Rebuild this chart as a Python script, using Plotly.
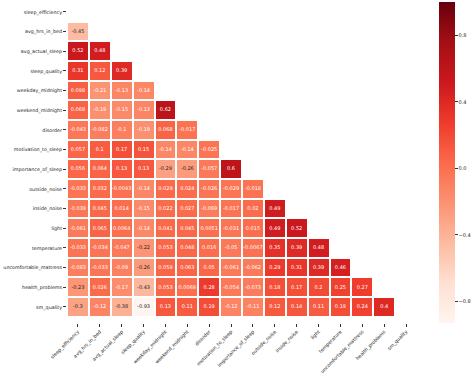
import plotly.graph_objects as go

labels = ["sleep_efficiency", "avg_hrs_in_bed", "avg_actual_sleep", "sleep_quality",
          "weekday_midnight", "weekend_midnight", "disorder", "motivation_to_sleep",
          "importance_of_sleep", "outside_noise", "inside_noise", "light", "temperature",
          "uncomfortable_mattress", "health_problems", "sm_quality"]

# lower triangle rows (values for columns j < i)
lower = [
    [],
    [-0.45],
    [0.52, 0.48],
    [0.31, 0.12, 0.39],
    [0.098, -0.21, -0.13, -0.14],
    [0.068, -0.19, -0.15, -0.13, 0.62],
    [-0.043, -0.082, -0.1, -0.19, 0.068, -0.017],
    [0.057, 0.1, 0.17, 0.15, -0.14, -0.14, -0.025],
    [0.056, 0.064, 0.13, 0.13, -0.29, -0.26, -0.057, 0.6],
    [-0.033, 0.032, -0.0043, -0.14, 0.029, 0.024, -0.026, -0.029, -0.018],
    [-0.039, 0.045, 0.014, -0.15, 0.022, 0.027, -0.069, -0.017, 0.02, 0.49],
    [-0.061, 0.065, 0.0064, -0.14, 0.041, 0.045, 0.0051, -0.031, 0.015, 0.49, 0.52],
    [-0.033, -0.034, -0.047, -0.22, 0.053, 0.048, 0.016, -0.05, -0.0067, 0.35, 0.39, 0.48],
    [-0.083, -0.033, -0.09, -0.26, 0.059, 0.063, 0.05, -0.061, -0.062, 0.29, 0.31, 0.39, 0.46],
    [-0.23, 0.026, -0.17, -0.43, 0.053, 0.0069, 0.28, -0.054, -0.073, 0.18, 0.17, 0.2, 0.25, 0.27],
    [-0.3, -0.12, -0.38, -0.93, 0.13, 0.11, 0.19, -0.12, -0.11, 0.12, 0.14, 0.11, 0.19, 0.24, 0.4],
]

zmin, zmax = -0.93, 1.0
cbar_ticks = [-0.8, -0.4, 0.0, 0.4, 0.8]
cbar_text = ["\u22120.8", "\u22120.4", "0.0", "0.4", "0.8"]

reds = ['rgb(255,245,240)', 'rgb(254,224,210)', 'rgb(252,187,161)', 'rgb(252,146,114)',
        'rgb(251,106,74)', 'rgb(239,59,44)', 'rgb(203,24,29)', 'rgb(165,15,21)', 'rgb(103,0,13)']
colorscale = [[i / 8, c] for i, c in enumerate(reds)]
reds_rgb = [tuple(int(v) for v in c[4:-1].split(",")) for c in reds]


def color_at(v):
    t = (v - zmin) / (zmax - zmin)
    t = min(max(t, 0), 1) * 8
    k = min(int(t), 7)
    f = t - k
    a, b = reds_rgb[k], reds_rgb[k + 1]
    return [a[m] + (b[m] - a[m]) * f for m in range(3)]


def lum(rgb):
    out = []
    for c in rgb:
        c = c / 255
        out.append(c / 12.92 if c <= 0.03928 else ((c + 0.055) / 1.055) ** 2.4)
    return 0.2126 * out[0] + 0.7152 * out[1] + 0.0722 * out[2]


n = len(labels)
z = [[None] * n for _ in range(n)]
tx, ty, tt, tc = [], [], [], []
for i, row in enumerate(lower):
    for j, v in enumerate(row):
        z[i][j] = v
        tx.append(labels[j])
        ty.append(labels[i])
        tt.append(f"{v:.2g}")
        tc.append("rgb(38,38,38)" if lum(color_at(v)) > 0.43 else "white")

fig = go.Figure()
fig.add_trace(go.Heatmap(
    z=z, x=labels, y=labels, colorscale=colorscale, zmin=zmin, zmax=zmax,
    xgap=2, ygap=2, hoverongaps=False,
    colorbar=dict(x=1.063, xanchor="left", y=0.5, yanchor="middle", len=1.0,
                  lenmode="fraction", thickness=16, outlinewidth=0,
                  tickvals=cbar_ticks, ticktext=cbar_text, ticks="outside",
                  ticklen=3, tickcolor="#333", tickfont=dict(size=5, color="#222"),
                  xpad=0, ypad=0),
))
fig.add_trace(go.Scatter(
    x=tx, y=ty, text=tt, mode="text", textposition="middle center",
    textfont=dict(size=5, color=tc, family="DejaVu Sans"),
    hoverinfo="skip", showlegend=False,
))

fig.update_layout(
    width=474, height=376,
    margin=dict(l=67, r=57, t=2, b=53),
    paper_bgcolor="white", plot_bgcolor="white",
    font=dict(family="DejaVu Sans", size=5, color="#222"),
    showlegend=False,
)
fig.update_xaxes(categoryorder="array", categoryarray=labels, tickangle=-45,
                 showgrid=False, zeroline=False, ticks="outside", ticklen=3,
                 tickcolor="#333", tickfont=dict(size=4.8), automargin=False,
                 range=[-0.5, n - 0.5])
fig.update_yaxes(categoryorder="array", categoryarray=labels, autorange="reversed",
                 showgrid=False, zeroline=False, ticks="outside", ticklen=3,
                 tickcolor="#333", tickfont=dict(size=4.8), automargin=False)

fig.write_html("out.html")
